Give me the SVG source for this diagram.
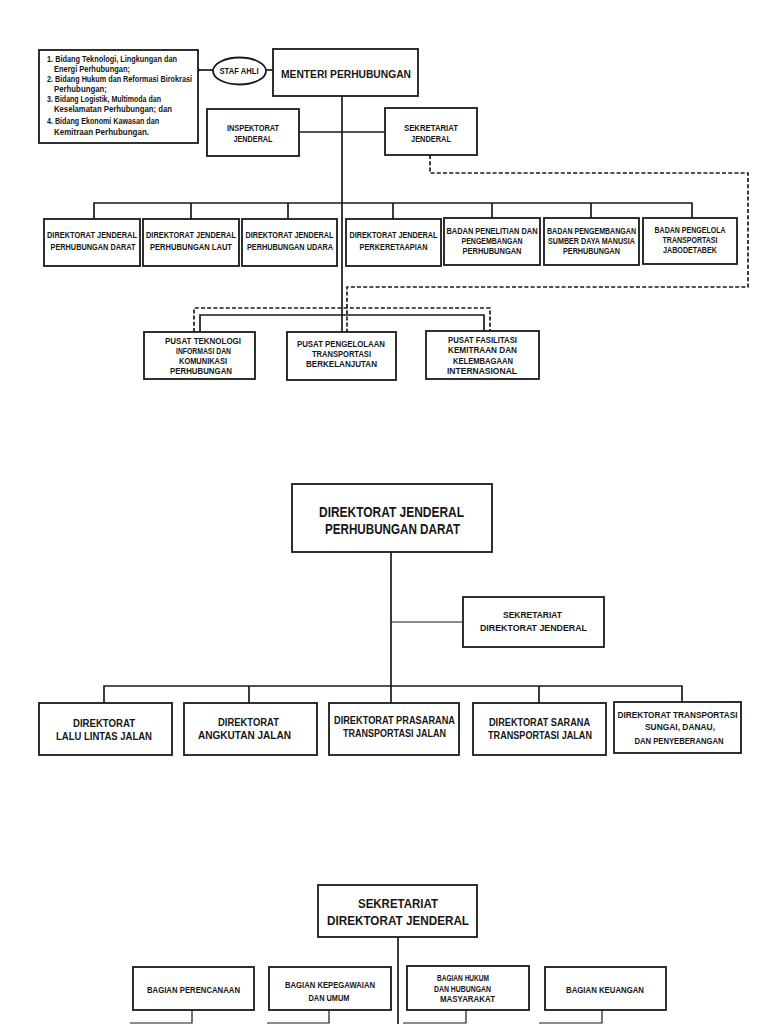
<svg xmlns="http://www.w3.org/2000/svg" width="768" height="1024" viewBox="0 0 768 1024">
<defs>
<style>
text{font-family:"Liberation Sans",Arial,sans-serif;font-weight:bold;fill:#161616;text-anchor:middle}
.l{text-anchor:start}
.box{fill:#fff;stroke:#1a1a1a;stroke-width:1.8}
.ln{fill:none;stroke:#1a1a1a;stroke-width:1.7}
.thin{fill:none;stroke:#1a1a1a;stroke-width:1.2}
.dash{fill:none;stroke:#1a1a1a;stroke-width:1.7;stroke-dasharray:4 2.2}
.s7{font-size:9.4px}
.s8{font-size:8.4px}
.s85{font-size:8.6px}
.s95{font-size:9.8px}
.s105{font-size:10.8px}
.s11{font-size:11.8px}
.s13{font-size:13.2px}
.s14{font-size:14.8px}
</style>
<marker id="open" markerWidth="10" markerHeight="10" refX="1" refY="5" orient="auto-start-reverse" markerUnits="userSpaceOnUse">
<path d="M7,1.5 L1,5 L7,8.5" fill="none" stroke="#1a1a1a" stroke-width="1.4"/>
</marker>
</defs>
<rect width="768" height="1024" fill="#fff"/>

<g id="connectors">
<line class="ln" x1="273" y1="70" x2="266" y2="70"/>
<line class="ln" x1="213" y1="70" x2="200" y2="70" marker-end="url(#open)"/>
<line class="ln" x1="342" y1="96" x2="342" y2="332"/>
<line class="ln" x1="299" y1="132" x2="385" y2="132"/>
<polyline class="ln" points="94,219 94,203 692,203 692,218"/>
<line class="ln" x1="191" y1="203" x2="191" y2="219"/>
<line class="ln" x1="288" y1="203" x2="288" y2="219"/>
<line class="ln" x1="393" y1="203" x2="393" y2="219"/>
<line class="ln" x1="492" y1="203" x2="492" y2="218"/>
<line class="ln" x1="591" y1="203" x2="591" y2="218"/>
<polyline class="dash" points="430,155 430,173 748,173 748,287 347,287 347,332"/>
<polyline class="dash" points="194,332 194,308 490,308 490,331"/>
<polyline class="ln" points="200,332 200,315 484,315 484,331"/>
<line class="ln" x1="391" y1="552" x2="391" y2="703"/>
<line class="thin" x1="391" y1="622" x2="463" y2="622"/>
<polyline class="ln" points="104,703 104,686 682,686 682,702"/>
<line class="ln" x1="249" y1="686" x2="249" y2="703"/>
<line class="ln" x1="539" y1="686" x2="539" y2="703"/>
<line class="ln" x1="398" y1="937" x2="398" y2="1024"/>
<polyline class="thin" points="192,1010 192,1023 130,1023"/>
<polyline class="thin" points="329,1010 329,1023 267,1023"/>
<polyline class="thin" points="466,1010 466,1023 403,1023"/>
<polyline class="thin" points="602,1010 602,1023 539,1023"/>
</g>

<g id="staf-ahli-list">
<rect class="box" x="39" y="50" width="159" height="93"/>
<g transform="matrix(0.82,0,0,1,47,0)">
<text class="l s7" x="0" y="62" textLength="158.5" lengthAdjust="spacingAndGlyphs">1. Bidang Teknologi, Lingkungan  dan</text>
<text class="l s7" x="8.5" y="72" textLength="92.7" lengthAdjust="spacingAndGlyphs">Energi Perhubungan;</text>
<text class="l s7" x="0" y="82" textLength="176.8" lengthAdjust="spacingAndGlyphs">2. Bidang Hukum dan Reformasi Birokrasi</text>
<text class="l s7" x="8.5" y="92" textLength="64.6" lengthAdjust="spacingAndGlyphs">Perhubungan;</text>
<text class="l s7" x="0" y="102" textLength="139" lengthAdjust="spacingAndGlyphs">3. Bidang Logistik, Multimoda dan</text>
<text class="l s7" x="8.5" y="112" textLength="143.9" lengthAdjust="spacingAndGlyphs">Keselamatan Perhubungan; dan</text>
<text class="l s7" x="0" y="124" textLength="136.6" lengthAdjust="spacingAndGlyphs">4. Bidang Ekonomi Kawasan dan</text>
<text class="l s7" x="8.5" y="135" textLength="115.9" lengthAdjust="spacingAndGlyphs">Kemitraan Perhubungan.</text>
</g>
</g>

<g id="staf-ahli">
<ellipse class="box" cx="239.5" cy="71" rx="26.5" ry="13.5"/>
<text class="s85" x="239" y="74" textLength="39" lengthAdjust="spacingAndGlyphs">STAF AHLI</text>
</g>

<g id="menteri">
<rect class="box" x="273" y="49" width="145" height="47"/>
<text class="s11" x="346" y="78" textLength="130" lengthAdjust="spacingAndGlyphs">MENTERI PERHUBUNGAN</text>
</g>

<g id="inspektorat">
<rect class="box" x="207" y="109" width="92" height="47"/>
<text class="s8" x="253" y="131" textLength="52" lengthAdjust="spacingAndGlyphs">INSPEKTORAT</text>
<text class="s8" x="253" y="142" textLength="39" lengthAdjust="spacingAndGlyphs">JENDERAL</text>
</g>

<g id="sekjen">
<rect class="box" x="385" y="108" width="92" height="47"/>
<text class="s8" x="431" y="131" textLength="54" lengthAdjust="spacingAndGlyphs">SEKRETARIAT</text>
<text class="s8" x="431" y="142" textLength="40" lengthAdjust="spacingAndGlyphs">JENDERAL</text>
</g>

<g id="dj-darat">
<rect class="box" x="44" y="219" width="96" height="47"/>
<text class="s8" x="92" y="238" textLength="90" lengthAdjust="spacingAndGlyphs">DIREKTORAT JENDERAL</text>
<text class="s8" x="93" y="250" textLength="85" lengthAdjust="spacingAndGlyphs">PERHUBUNGAN DARAT</text>
</g>
<g id="dj-laut">
<rect class="box" x="143" y="219" width="96" height="47"/>
<text class="s8" x="191" y="238" textLength="90" lengthAdjust="spacingAndGlyphs">DIREKTORAT JENDERAL</text>
<text class="s8" x="191" y="250" textLength="82" lengthAdjust="spacingAndGlyphs">PERHUBUNGAN LAUT</text>
</g>
<g id="dj-udara">
<rect class="box" x="242" y="219" width="95" height="47"/>
<text class="s8" x="289.5" y="238" textLength="88" lengthAdjust="spacingAndGlyphs">DIREKTORAT JENDERAL</text>
<text class="s8" x="290" y="250" textLength="86" lengthAdjust="spacingAndGlyphs">PERHUBUNGAN UDARA</text>
</g>
<g id="dj-kereta">
<rect class="box" x="346" y="219" width="95" height="47"/>
<text class="s8" x="393.5" y="238" textLength="88" lengthAdjust="spacingAndGlyphs">DIREKTORAT JENDERAL</text>
<text class="s8" x="393.5" y="250" textLength="68" lengthAdjust="spacingAndGlyphs">PERKERETAAPIAN</text>
</g>
<g id="balitbang">
<rect class="box" x="444" y="218" width="96" height="47"/>
<text class="s8" x="492" y="234" textLength="91" lengthAdjust="spacingAndGlyphs">BADAN PENELITIAN DAN</text>
<text class="s8" x="492" y="244" textLength="61" lengthAdjust="spacingAndGlyphs">PENGEMBANGAN</text>
<text class="s8" x="492" y="254" textLength="59" lengthAdjust="spacingAndGlyphs">PERHUBUNGAN</text>
</g>
<g id="bpsdm">
<rect class="box" x="544" y="218" width="95" height="47"/>
<text class="s8" x="591.5" y="234" textLength="89" lengthAdjust="spacingAndGlyphs">BADAN PENGEMBANGAN</text>
<text class="s8" x="591.5" y="244" textLength="87" lengthAdjust="spacingAndGlyphs">SUMBER DAYA MANUSIA</text>
<text class="s8" x="591.5" y="254" textLength="57" lengthAdjust="spacingAndGlyphs">PERHUBUNGAN</text>
</g>
<g id="bptj">
<rect class="box" x="643" y="218" width="94" height="46"/>
<text class="s8" x="690" y="233" textLength="71" lengthAdjust="spacingAndGlyphs">BADAN PENGELOLA</text>
<text class="s8" x="690" y="243" textLength="55" lengthAdjust="spacingAndGlyphs">TRANSPORTASI</text>
<text class="s8" x="690" y="253" textLength="54" lengthAdjust="spacingAndGlyphs">JABODETABEK</text>
</g>

<g id="pusat-tik">
<rect class="box" x="144" y="332" width="111" height="47"/>
<text class="s8" x="203" y="344" textLength="76" lengthAdjust="spacingAndGlyphs">PUSAT TEKNOLOGI</text>
<text class="s8" x="203.5" y="354" textLength="55" lengthAdjust="spacingAndGlyphs">INFORMASI DAN</text>
<text class="s8" x="203" y="364" textLength="48" lengthAdjust="spacingAndGlyphs">KOMUNIKASI</text>
<text class="s8" x="201" y="374" textLength="62" lengthAdjust="spacingAndGlyphs">PERHUBUNGAN</text>
</g>
<g id="pusat-transportasi">
<rect class="box" x="287" y="332" width="109" height="48"/>
<text class="s8" x="341" y="347" textLength="88" lengthAdjust="spacingAndGlyphs">PUSAT PENGELOLAAN</text>
<text class="s8" x="341.5" y="357" textLength="59" lengthAdjust="spacingAndGlyphs">TRANSPORTASI</text>
<text class="s8" x="341.5" y="367" textLength="71" lengthAdjust="spacingAndGlyphs">BERKELANJUTAN</text>
</g>
<g id="pusat-kerjasama">
<rect class="box" x="426" y="331" width="113" height="48"/>
<text class="s8" x="482.5" y="343" textLength="69" lengthAdjust="spacingAndGlyphs">PUSAT FASILITASI</text>
<text class="s8" x="482.5" y="353" textLength="69" lengthAdjust="spacingAndGlyphs">KEMITRAAN DAN</text>
<text class="s8" x="483" y="364" textLength="60" lengthAdjust="spacingAndGlyphs">KELEMBAGAAN</text>
<text class="s8" x="482" y="374" textLength="70" lengthAdjust="spacingAndGlyphs">INTERNASIONAL</text>
</g>

<g id="djpd-head">
<rect class="box" x="292" y="484" width="200" height="68"/>
<text class="s14" x="391.5" y="517" textLength="145" lengthAdjust="spacingAndGlyphs">DIREKTORAT JENDERAL</text>
<text class="s14" x="392.5" y="534" textLength="135" lengthAdjust="spacingAndGlyphs">PERHUBUNGAN DARAT</text>
</g>
<g id="djpd-sekretariat">
<rect class="box" x="463" y="597" width="141" height="50"/>
<text class="s95" x="532.5" y="618" textLength="59" lengthAdjust="spacingAndGlyphs">SEKRETARIAT</text>
<text class="s95" x="533.5" y="631" textLength="107" lengthAdjust="spacingAndGlyphs">DIREKTORAT JENDERAL</text>
</g>
<g id="dit-lalu-lintas">
<rect class="box" x="39" y="703" width="133" height="52"/>
<text class="s105" x="104" y="727" textLength="62" lengthAdjust="spacingAndGlyphs">DIREKTORAT</text>
<text class="s105" x="104" y="740" textLength="96" lengthAdjust="spacingAndGlyphs">LALU LINTAS JALAN</text>
</g>
<g id="dit-angkutan">
<rect class="box" x="184" y="703" width="133" height="52"/>
<text class="s105" x="248.5" y="726" textLength="61" lengthAdjust="spacingAndGlyphs">DIREKTORAT</text>
<text class="s105" x="244.5" y="739" textLength="93" lengthAdjust="spacingAndGlyphs">ANGKUTAN JALAN</text>
</g>
<g id="dit-prasarana">
<rect class="box" x="329" y="703" width="130" height="52"/>
<text class="s105" x="394.5" y="724" textLength="121" lengthAdjust="spacingAndGlyphs">DIREKTORAT PRASARANA</text>
<text class="s105" x="394.5" y="737" textLength="103" lengthAdjust="spacingAndGlyphs">TRANSPORTASI JALAN</text>
</g>
<g id="dit-sarana">
<rect class="box" x="473" y="703" width="133" height="52"/>
<text class="s105" x="539.5" y="726" textLength="101" lengthAdjust="spacingAndGlyphs">DIREKTORAT SARANA</text>
<text class="s105" x="540" y="739" textLength="104" lengthAdjust="spacingAndGlyphs">TRANSPORTASI JALAN</text>
</g>
<g id="dit-sdp">
<rect class="box" x="614" y="702" width="127" height="51"/>
<text class="s95" x="677.5" y="718" textLength="120" lengthAdjust="spacingAndGlyphs">DIREKTORAT TRANSPORTASI</text>
<text class="s95" x="680" y="730" textLength="70" lengthAdjust="spacingAndGlyphs">SUNGAI, DANAU,</text>
<text class="s95" x="679" y="744" textLength="89" lengthAdjust="spacingAndGlyphs">DAN PENYEBERANGAN</text>
</g>

<g id="setditjen-head">
<rect class="box" x="318" y="885" width="159" height="52"/>
<text class="s13" x="398" y="908" textLength="80" lengthAdjust="spacingAndGlyphs">SEKRETARIAT</text>
<text class="s13" x="398" y="925" textLength="142" lengthAdjust="spacingAndGlyphs">DIREKTORAT JENDERAL</text>
</g>
<g id="bagian-perencanaan">
<rect class="box" x="133" y="967" width="121" height="43"/>
<text class="s8" x="193.5" y="993" textLength="93" lengthAdjust="spacingAndGlyphs">BAGIAN PERENCANAAN</text>
</g>
<g id="bagian-kepegawaian">
<rect class="box" x="269" y="967" width="122" height="43"/>
<text class="s8" x="330" y="988" textLength="90" lengthAdjust="spacingAndGlyphs">BAGIAN KEPEGAWAIAN</text>
<text class="s8" x="329" y="1001" textLength="41" lengthAdjust="spacingAndGlyphs">DAN UMUM</text>
</g>
<g id="bagian-hukum">
<rect class="box" x="407" y="966" width="122" height="44"/>
<text class="s8" x="463" y="981" textLength="52" lengthAdjust="spacingAndGlyphs">BAGIAN HUKUM</text>
<text class="s8" x="462.5" y="991.5" textLength="57" lengthAdjust="spacingAndGlyphs">DAN HUBUNGAN</text>
<text class="s8" x="467.5" y="1002" textLength="55" lengthAdjust="spacingAndGlyphs">MASYARAKAT</text>
</g>
<g id="bagian-keuangan">
<rect class="box" x="545" y="967" width="121" height="43"/>
<text class="s8" x="605" y="993" textLength="78" lengthAdjust="spacingAndGlyphs">BAGIAN KEUANGAN</text>
</g>
</svg>
